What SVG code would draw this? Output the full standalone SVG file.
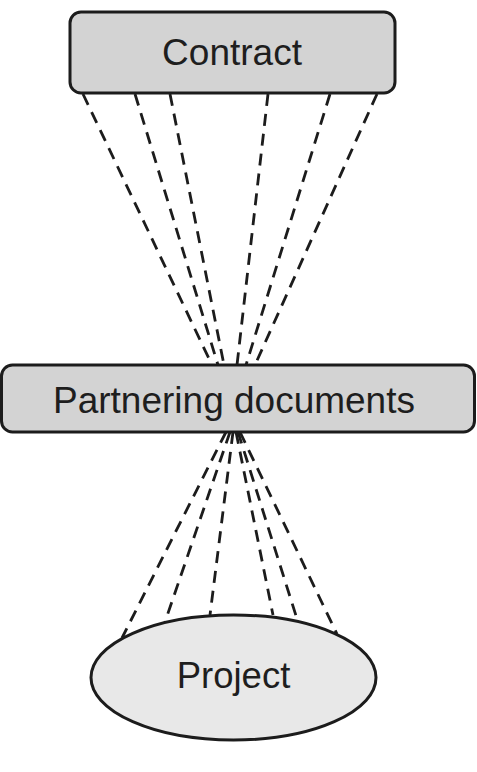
<svg xmlns="http://www.w3.org/2000/svg" width="477" height="772" viewBox="0 0 477 772">
<style>
.box{fill:#d3d3d3;stroke:#1c1c1c;stroke-width:3}
.ell{fill:#e8e8e8;stroke:#1c1c1c;stroke-width:3}
.lbl{font-family:"Liberation Sans",Arial,sans-serif;font-size:37px;fill:#1e1e1e;text-anchor:middle}
.dash{stroke:#1c1c1c;stroke-width:2.8;stroke-dasharray:12 8;fill:none}
</style>
<rect width="477" height="772" fill="#fff"/>
<g id="connectors">
<line class="dash" x1="83" y1="94" x2="212" y2="365"/>
<line class="dash" x1="135" y1="94" x2="218" y2="365"/>
<line class="dash" x1="170" y1="94" x2="224" y2="365"/>
<line class="dash" x1="268" y1="94" x2="237" y2="365"/>
<line class="dash" x1="330" y1="94" x2="246" y2="365"/>
<line class="dash" x1="377" y1="94" x2="255" y2="365"/>
<line class="dash" x1="226" y1="432" x2="122" y2="638"/>
<line class="dash" x1="230" y1="432" x2="165" y2="622"/>
<line class="dash" x1="233" y1="432" x2="210" y2="615"/>
<line class="dash" x1="236" y1="432" x2="273" y2="615"/>
<line class="dash" x1="238" y1="432" x2="298" y2="622"/>
<line class="dash" x1="240" y1="432" x2="337" y2="634"/>
</g>
<g id="contract">
<rect class="box" x="70" y="12" width="325" height="81" rx="11"/>
<text class="lbl" x="232" y="65">Contract</text>
</g>
<g id="partnering">
<rect class="box" x="1.5" y="365" width="473" height="67" rx="11"/>
<text class="lbl" x="234" y="412.5">Partnering documents</text>
</g>
<g id="project">
<ellipse class="ell" cx="233.5" cy="677.5" rx="142.5" ry="62.5"/>
<text class="lbl" x="233.5" y="688" style="font-size:36.5px">Project</text>
</g>
</svg>
